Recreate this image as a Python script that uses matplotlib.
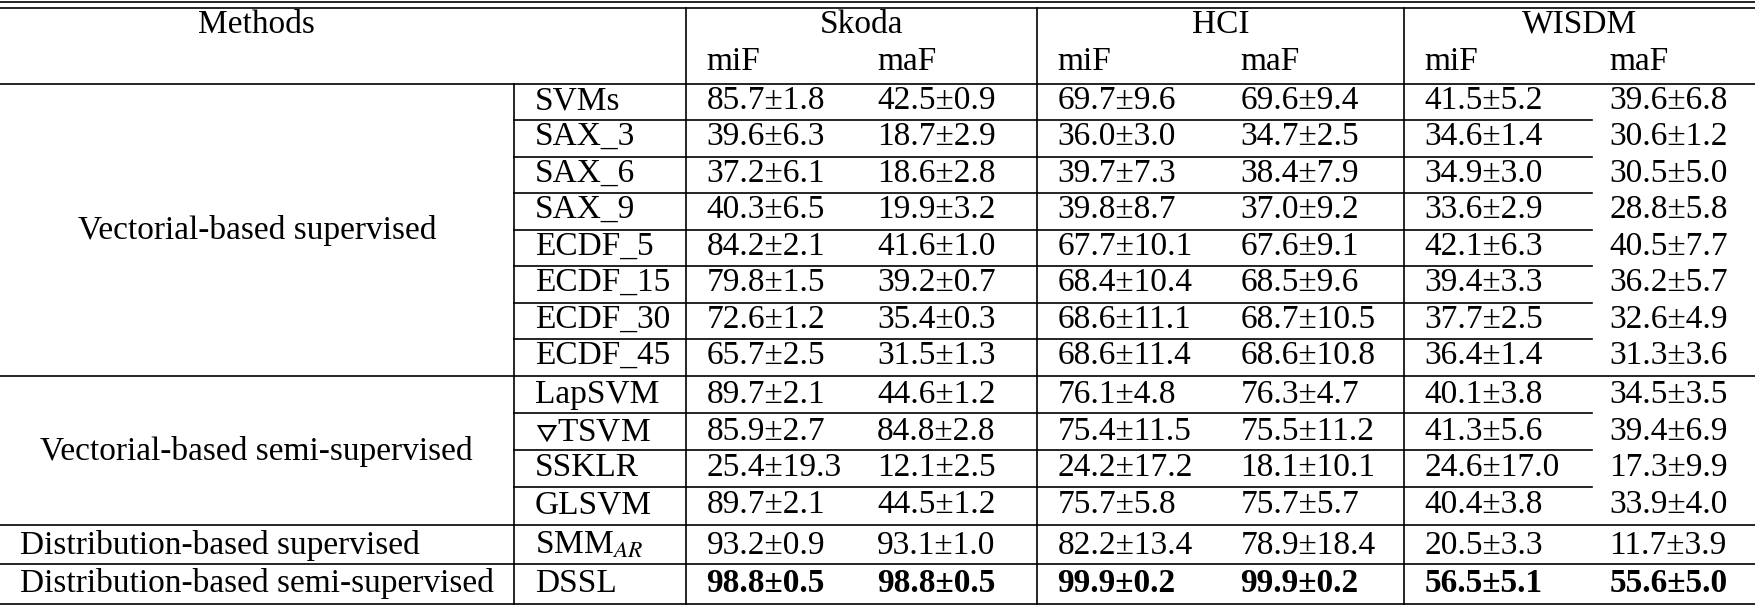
import numpy as np
import matplotlib.pyplot as plt

plt.rcParams['font.family'] = ['Liberation Serif', 'DejaVu Serif']
plt.rcParams['mathtext.fontset'] = 'stix'

groups = ["Vectorial-based supervised", "Vectorial-based semi-supervised",
          "Distribution-based supervised", "Distribution-based semi-supervised"]
methods = ["SVMs", "SAX_3", "SAX_6", "SAX_9", "ECDF_5", "ECDF_15", "ECDF_30", "ECDF_45",
           "LapSVM", r"$\triangledown$TSVM", "SSKLR", "GLSVM", r"SMM$_{AR}$", "DSSL"]
datasets = ["Skoda", "HCI", "WISDM"]
metrics = ["miF", "maF"]

# columns: Skoda miF, Skoda maF, HCI miF, HCI maF, WISDM miF, WISDM maF
means = [
    [85.7, 42.5, 69.7, 69.6, 41.5, 39.6],
    [39.6, 18.7, 36.0, 34.7, 34.6, 30.6],
    [37.2, 18.6, 39.7, 38.4, 34.9, 30.5],
    [40.3, 19.9, 39.8, 37.0, 33.6, 28.8],
    [84.2, 41.6, 67.7, 67.6, 42.1, 40.5],
    [79.8, 39.2, 68.4, 68.5, 39.4, 36.2],
    [72.6, 35.4, 68.6, 68.7, 37.7, 32.6],
    [65.7, 31.5, 68.6, 68.6, 36.4, 31.3],
    [89.7, 44.6, 76.1, 76.3, 40.1, 34.5],
    [85.9, 84.8, 75.4, 75.5, 41.3, 39.4],
    [25.4, 12.1, 24.2, 18.1, 24.6, 17.3],
    [89.7, 44.5, 75.7, 75.7, 40.4, 33.9],
    [93.2, 93.1, 82.2, 78.9, 20.5, 11.7],
    [98.8, 98.8, 99.9, 99.9, 56.5, 55.6],
]
stds = [
    [1.8, 0.9, 9.6, 9.4, 5.2, 6.8],
    [6.3, 2.9, 3.0, 2.5, 1.4, 1.2],
    [6.1, 2.8, 7.3, 7.9, 3.0, 5.0],
    [6.5, 3.2, 8.7, 9.2, 2.9, 5.8],
    [2.1, 1.0, 10.1, 9.1, 6.3, 7.7],
    [1.5, 0.7, 10.4, 9.6, 3.3, 5.7],
    [1.2, 0.3, 11.1, 10.5, 2.5, 4.9],
    [2.5, 1.3, 11.4, 10.8, 1.4, 3.6],
    [2.1, 1.2, 4.8, 4.7, 3.8, 3.5],
    [2.7, 2.8, 11.5, 11.2, 5.6, 6.9],
    [19.3, 2.5, 17.2, 10.1, 17.0, 9.9],
    [2.1, 1.2, 5.8, 5.7, 3.8, 4.0],
    [0.9, 1.0, 13.4, 18.4, 3.3, 3.9],
    [0.5, 0.5, 0.2, 0.2, 5.1, 5.0],
]

W, H = 1565, 541
fig = plt.figure(figsize=(17.55, 6.07), dpi=100)
ax = fig.add_axes([0, 0, 1, 1])
ax.set_xlim(0, W)
ax.set_ylim(H, 0)
ax.axis('off')

fs = 24
lw = 1.2
row_y = [90, 122, 155, 187, 220, 252, 285, 317, 352, 385, 417, 450, 486, 520]
row_top = [75, 107, 140, 172, 205, 237, 270, 302, 335, 368, 401, 434, 468, 503, 538]
col_x = [630, 782, 943, 1106, 1270, 1435]
vx = [458, 612, 925, 1252]

# rules
for y in (2, 7, 75, 335, 468, 503, 538):
    ax.plot([0, W], [y, y], color='black', lw=lw)
for y in row_top[1:8] + row_top[9:12]:
    ax.plot([vx[0], 1420], [y, y], color='black', lw=lw)
ax.plot([vx[0], vx[0]], [75, 538], color='black', lw=lw)
for x in vx[1:]:
    ax.plot([x, x], [7, 538], color='black', lw=lw)

# header
ax.text(229, 22, "Methods", fontsize=fs, ha='center', va='center')
for i, d in enumerate(datasets):
    cx = (vx[i + 1] + (vx[i + 2] if i + 2 < len(vx) else W)) / 2
    ax.text(cx, 22, d, fontsize=fs, ha='center', va='center')
for j, x in enumerate(col_x):
    ax.text(x, 55, metrics[j % 2], fontsize=fs, ha='left', va='center')

# group labels
ax.text(229, 205, groups[0], fontsize=fs, ha='center', va='center')
ax.text(229, 402, groups[1], fontsize=fs, ha='center', va='center')
ax.text(18, 486, groups[2], fontsize=fs, ha='left', va='center')
ax.text(18, 520, groups[3], fontsize=fs, ha='left', va='center')

# body
for i, m in enumerate(methods):
    ax.text(477, row_y[i], m, fontsize=fs, ha='left', va='center')
    bold = i == len(methods) - 1
    for j, x in enumerate(col_x):
        ax.text(x, row_y[i], f"{means[i][j]:.1f}\u00b1{stds[i][j]:.1f}", fontsize=fs,
                ha='left', va='center', fontweight='bold' if bold else 'normal')

fig.savefig("out.png", dpi=100)
